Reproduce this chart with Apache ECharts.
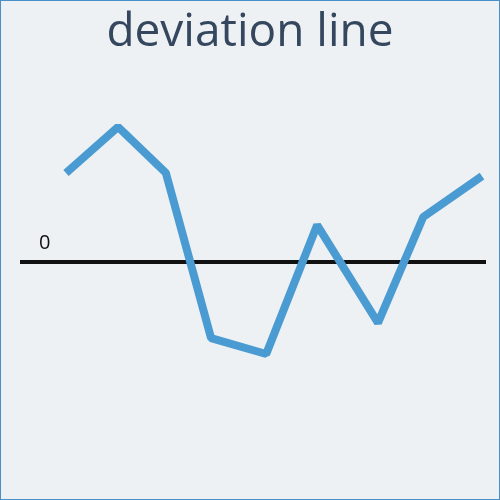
<!DOCTYPE html>
<html><head><meta charset="utf-8">
<script src="https://cdn.jsdelivr.net/npm/echarts@6/dist/echarts.min.js"></script>
<style>html,body{margin:0;padding:0;background:#eef1f3}#c{width:498px;height:498px;border:1px solid #4a90c8}</style>
</head><body><div id="c"></div>
<script>
const xPositions=[0,1,1.92,2.79,3.85,4.83,6.0,6.87,8];
const values=[2.75,4.17,2.75,-2.35,-2.84,1.14,-1.88,1.39,2.65];
const zeroLine=[[0,0],[1,0]];
const chart=echarts.init(document.getElementById('c'));
chart.setOption({
 backgroundColor:'#eef1f3',
 title:{text:'deviation line',left:'center',top:4,textStyle:{fontFamily:'Open Sans',fontWeight:'normal',fontSize:46,color:'#34475e'}},
 grid:[{left:65,right:17,top:99,bottom:75},{left:19,right:13,top:99,bottom:75}],
 xAxis:[{type:'value',min:0,max:8,show:false,gridIndex:0},
        {type:'value',min:0,max:1,show:false,gridIndex:1}],
 yAxis:[{type:'value',min:-5,max:5,show:false,gridIndex:0},
        {type:'value',min:-5,max:5,show:false,gridIndex:1}],
 graphic:[{type:'text',left:38,top:232,style:{text:'0',fontSize:20,fontFamily:'Open Sans',fill:'#111'}}],
 series:[
  {type:'line',xAxisIndex:1,yAxisIndex:1,data:zeroLine,symbol:'none',lineStyle:{color:'#111',width:4},z:1},
  {type:'line',data:xPositions.map((x,i)=>[x,values[i]]),symbol:'none',lineStyle:{color:'#4b9bd3',width:8},z:2}
 ]
});
</script></body></html>
